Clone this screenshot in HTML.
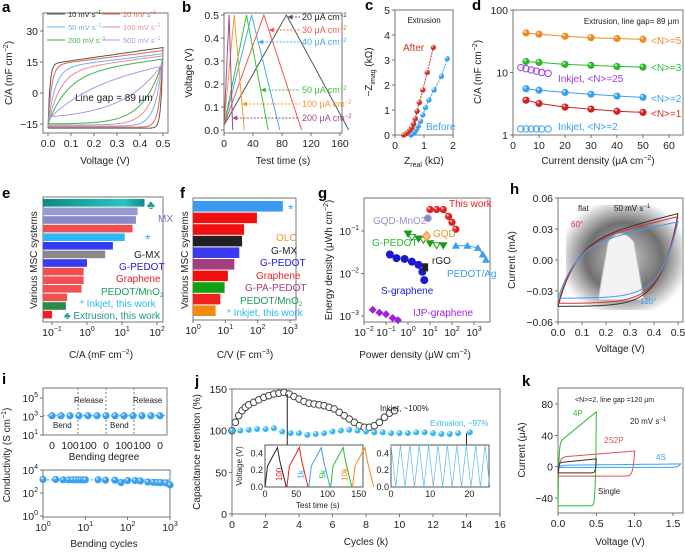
<!DOCTYPE html>
<html><head><meta charset="utf-8">
<style>
body{margin:0;background:#fff}
svg{font-family:"Liberation Sans",Arial,sans-serif;font-size:10px}
.t{font-size:10px;fill:#222}
.L{font-size:15px;font-weight:bold}
</style></head>
<body>
<svg id="fig" width="685" height="550" viewBox="0 0 685 550" xmlns="http://www.w3.org/2000/svg">
<defs>
<linearGradient id="tealg" x1="0" x2="1"><stop offset="0" stop-color="#0d8a83"/><stop offset="0.8" stop-color="#26c6c0"/><stop offset="1" stop-color="#0d8a83"/></linearGradient>
<radialGradient id="photo" cx="0.5" cy="0.5" r="0.6"><stop offset="0" stop-color="#d0d0d0"/><stop offset="0.55" stop-color="#707070"/><stop offset="0.95" stop-color="#fff"/></radialGradient>
</defs>
<g class="L">
<text x="2" y="12">a</text><text x="182" y="12">b</text><text x="365" y="10">c</text><text x="472" y="10">d</text>
<text x="2" y="198">e</text><text x="180" y="198">f</text><text x="318" y="198">g</text><text x="510" y="194">h</text>
<text x="2" y="384">i</text><text x="195" y="386">j</text><text x="522" y="386">k</text>
</g>
<g class="t" text-anchor="middle" font-size="11">
<text x="105" y="164">Voltage (V)</text>
<text transform="translate(12,73) rotate(-90)">C/A (mF cm<tspan dy="-4" font-size="7">−2</tspan><tspan dy="4">)</tspan></text>
<text x="283" y="164">Test time (s)</text>
<text transform="translate(192,73) rotate(-90)">Voltage (V)</text>
<text x="424" y="164">Z<tspan dy="3" font-size="7">real</tspan><tspan dy="-3"> (kΩ)</tspan></text>
<text transform="translate(372,72) rotate(-90)">−Z<tspan dy="3" font-size="7">imag</tspan><tspan dy="-3"> (kΩ)</tspan></text>
<text x="598" y="164">Current density (μA cm<tspan dy="-4" font-size="7">−2</tspan><tspan dy="4">)</tspan></text>
<text transform="translate(481,72) rotate(-90)">C/A (mF cm<tspan dy="-4" font-size="7">−2</tspan><tspan dy="4">)</tspan></text>
<text x="101" y="358">C/A (mF cm<tspan dy="-4" font-size="7">−2</tspan><tspan dy="4">)</tspan></text>
<text transform="translate(37,260) rotate(-90)">Various MSC systems</text>
<text x="245" y="358">C/V (F cm<tspan dy="-4" font-size="7">−3</tspan><tspan dy="4">)</tspan></text>
<text transform="translate(188,260) rotate(-90)">Various MSC systems</text>
<text x="415" y="358">Power density (μW cm<tspan dy="-4" font-size="7">−2</tspan><tspan dy="4">)</tspan></text>
<text transform="translate(332,260) rotate(-90)">Energy density (μWh cm<tspan dy="-4" font-size="7">−2</tspan><tspan dy="4">)</tspan></text>
<text x="620" y="352">Voltage (V)</text>
<text transform="translate(515,260) rotate(-90)">Current (mA)</text>
<text x="104" y="460">Bending degree</text>
<text x="104" y="547">Bending cycles</text>
<text transform="translate(10,455) rotate(-90)">Conductivity (S cm<tspan dy="-4" font-size="7">−1</tspan><tspan dy="4">)</tspan></text>
<text x="366" y="545">Cycles (k)</text>
<text transform="translate(200,452) rotate(-90)">Capacitance retention (%)</text>
<text x="620" y="545">Voltage (V)</text>
<text transform="translate(525,450) rotate(-90)">Current (μA)</text>
</g>
<g id="marks"></g>
<g class="t" font-size="9">
<text x="75" y="101" font-size="10">Line gap = 89 μm</text>
<text x="424" y="23" text-anchor="middle" font-size="8">Extrusion</text>
<text x="403" y="51" fill="#d03020">After</text>
<text x="426" y="130" fill="#3aa0f0">Before</text>
<text x="679" y="24" text-anchor="end" font-size="8">Extrusion, line gap= 89 μm</text>
<text x="651" y="44" fill="#f08a20">&lt;N&gt;=5</text>
<text x="651" y="71" fill="#2ab82a">&lt;N&gt;=3</text>
<text x="651" y="102" fill="#3aa0f0">&lt;N&gt;=2</text>
<text x="651" y="117" fill="#d03020">&lt;N&gt;=1</text>
<text x="558" y="82" fill="#a040e0">Inkjet, &lt;N&gt;=25</text>
<text x="558" y="130" fill="#3aa0f0">Inkjet, &lt;N&gt;=2</text>
<text x="158" y="222" fill="#7070c0">MX</text>
<text x="145" y="244" fill="#2ab8f0" font-size="14">*</text>
<text x="134" y="258">G-MX</text>
<text x="119" y="270" fill="#1a1ae0">G-PEDOT</text>
<text x="116" y="282" fill="#f02020">Graphene</text>
<text x="101" y="295" fill="#1a9a5a">PEDOT/MnO<tspan dy="2" font-size="6">2</tspan></text>
<text x="80" y="307" fill="#2ab8f0">* Inkjet, this work</text>
<text x="64" y="319" fill="#1a9a8a">♣ Extrusion, this work</text>
<text x="147" y="209" fill="#1a9a8a" font-size="12">♣</text>
<text x="288" y="214" fill="#2ab8f0" font-size="14">*</text>
<text x="276" y="241" fill="#f09030">OLC</text>
<text x="271" y="254">G-MX</text>
<text x="260" y="266" fill="#1a1ae0">G-PEDOT</text>
<text x="256" y="279" fill="#f02020">Graphene</text>
<text x="245" y="291" fill="#a04080">G-PA-PEDOT</text>
<text x="240" y="304" fill="#1a9a5a">PEDOT/MnO<tspan dy="2" font-size="6">2</tspan></text>
<text x="227" y="316" fill="#2ab8f0">* Inkjet, this work</text>
<text x="449" y="207" fill="#f02020">This work</text>
<text x="373" y="224" fill="#9a90d0">GQD-MnO2</text>
<text x="433" y="237" fill="#f09030">GQD</text>
<text x="372" y="246" fill="#2ab82a">G-PEDOT</text>
<text x="432" y="264">rGO</text>
<text x="447" y="277" fill="#3aa0f0">PEDOT/Ag</text>
<text x="381" y="294" fill="#1a1ae0">S-graphene</text>
<text x="413" y="316" fill="#a020e0">IJP-graphene</text>
<text x="578" y="211" font-size="8">flat</text>
<text x="614" y="211" font-size="8">50 mV s<tspan dy="-3" font-size="6">−1</tspan></text>
<text x="571" y="227" fill="#e03030" font-size="8">60°</text>
<text x="640" y="304" fill="#3aa0f0" font-size="8">120°</text>
<text x="74" y="403" font-size="8">Release</text><text x="133" y="403" font-size="8">Release</text>
<text x="53" y="428" font-size="8">Bend</text><text x="110" y="428" font-size="8">Bend</text>
<text x="380" y="411" font-size="8">Inkjet, ~100%</text>
<text x="430" y="426" fill="#3ab8f0" font-size="8">Extrusion, ~97%</text>
<text x="575" y="402" font-size="7">&lt;N&gt;=2, line gap =120 μm</text>
<text x="630" y="424" font-size="8">20 mV s<tspan dy="-3" font-size="6">−1</tspan></text>
<text x="573" y="416" fill="#2ab82a" font-size="8">4P</text>
<text x="604" y="443" fill="#e05050" font-size="8">2S2P</text>
<text x="656" y="460" fill="#3aa0f0" font-size="8">4S</text>
<text x="598" y="494" font-size="8">Single</text>
<text x="296" y="508" font-size="8">Test time (s)</text>
</g>
</svg>
<script>
// ---- data ----
const aRates=['10 mV s','20 mV s','50 mV s','100 mV s','200 mV s','500 mV s'];
const aUpper=[14,13.5,12,10.5,9,6];
const aUpperEnd=[22,20.5,19,18,16.5,14.5];
const aLower=[-17,-16.5,-16,-15.5,-15,-13];
const aTau=[0.008,0.015,0.03,0.05,0.08,0.17];
const bCurrents=['20','30','40','50','100','200'];
const bPeak=[86,55,38,31,14,7];
const bEnd=[172,107,77,61,28,12];
const cAfterX=[0.3,0.38,0.45,0.52,0.58,0.64,0.7,0.76,0.84,0.96,1.11,1.32];
const cAfterY=[0,0.05,0.12,0.2,0.3,0.45,0.65,0.95,1.3,1.8,2.5,3.5];
const cBeforeX=[0.55,0.62,0.68,0.74,0.8,0.88,0.96,1.05,1.17,1.35,1.6,1.8];
const cBeforeY=[0,0.05,0.12,0.22,0.35,0.55,0.8,1.1,1.4,1.8,2.35,3.05];
const dJ=[5,10,20,30,40,50];
const dN5=[43,41,38,36,35,34];
const dN3=[15,14.5,13.5,13,12.5,12.2];
const dN2=[5.5,5.2,4.8,4.5,4.2,4.0];
const dN1=[3.6,3.2,2.8,2.6,2.4,2.3];
const dInk25X=[3,5,7,9,11,13.5];
const dInk25=[12,11.5,11,10.5,10,9.7];
const dInk2X=[3,5,7,9,11,13.5];
const dInk2=[1.25,1.25,1.25,1.25,1.25,1.25];
const eVals=[44,28,25,20,12,5.5,3.3,1,0.8,0.8,0.7,0.27,0.25,0.1];
const eCols=['url(#tealg)','#9a9ad0','#8a8ac8','#f05050','#2ab8f8','#3a3af0','#888','#3a3af0','#f05050','#f05050','#f05050','#f05050','#2a8a4a','#f02020'];
const fVals=[600,95,38,33,27,19,12,9.5,7,5];
const fCols=['#3a9af0','#f01010','#f01010','#222','#3a3af0','#a04080','#f01010','#10a010','#f02020','#f08a10'];
const gThisP=[10,20,40,70,100,150], gThisE=[0.32,0.32,0.32,0.22,0.16,0.11];
const gGpedP=[1,1.5,3,5,10,20,40], gGpedE=[0.085,0.07,0.065,0.06,0.05,0.045,0.045];
const gSgrP=[0.15,0.3,0.7,1.5,3,4.5,5.5], gSgrE=[0.028,0.023,0.022,0.019,0.016,0.011,0.007];
const gAgP=[150,500,1500,2500,3500], gAgE=[0.045,0.045,0.04,0.028,0.021];
const gIjpP=[0.025,0.05,0.1,0.2,0.35], gIjpE=[0.0014,0.0012,0.0011,0.0009,0.0008];
const hNames=['flat','60','120'];
const hTop=[0.045,0.042,0.037];
const hLow=[-0.045,-0.042,-0.037];
const iTopVals=[1200,1200,1200,1200,1200,1200,1200,1200,1200,1200,1200,1200,1200];
const iCyc=[1,2,3,4,5,6,7,8,9,10,20,30,50,70,100,150,200,300,400,500,600,800,1000];
const iCond=[1500,1500,1400,1400,1400,1400,1400,1400,1400,1400,1400,1300,1300,800,1200,1200,1100,900,850,800,800,750,500];
const jInkK=[0,0.2,0.4,0.6,0.8,1,1.3,1.6,1.9,2.2,2.5,2.8,3.1,3.4,3.7,4,4.3,4.6,4.9,5.2,5.5,5.8,6.1,6.4,6.7,7,7.3,7.6,7.9,8.2,8.5,8.8,9.1,9.4,9.7];
const jInkR=[100,110,118,124,128,131,134,137,140,142,144,145,146,144,141,138,135,133,132,131,130,128,126,122,118,114,110,106,104,104,106,110,116,121,124];
const jExtK=[0,0.5,1,1.5,2,2.5,3,3.5,4,4.5,5,5.5,6,6.5,7,7.5,8,8.5,9,9.5,10,10.5,11,11.5,12,12.5,13,13.5,14.2];
const jExtR=[100,100,101,102,102,103,99,97,97,95,96,97,99,100,101,100,99,98,98,97,97,97,98,98,97,96,96,97,98];
const kNames=['4P','2S2P','4S','Single'];
const kVmax=[0.5,1.0,1.6,0.5];
const kTop=[70,20,3.5,10];
const kLow=[-50,-12,-1,-8];
const kUp0=[30,12,1.8,5];

// ---- helpers ----
const NS='http://www.w3.org/2000/svg';
const root=document.getElementById('marks');
function el(tag,attrs,name,parent){
  const e=document.createElementNS(NS,tag);
  for(const k in attrs)e.setAttribute(k,attrs[k]);
  
  
  (parent||root).appendChild(e);return e;
}
function txt(x,y,s,anchor,name,extra){
  const t=el('text',Object.assign({x:x,y:y,'text-anchor':anchor||'middle',fill:'#222','font-size':10},extra||{}),name);
  t.textContent=s;return t;
}
function lin(d0,d1,p0,p1){return v=>p0+(v-d0)*(p1-p0)/(d1-d0);}
function lg(d0,d1,p0,p1){const f=lin(Math.log10(d0),Math.log10(d1),p0,p1);return v=>f(Math.log10(v));}
function box(x0,y0,x1,y1,name){el('rect',{x:x0,y:y0,width:x1-x0,height:y1-y0,fill:'none',stroke:'#555','stroke-width':0.8},name);}
function xticks(vals,labels,X,y,name,sup){vals.forEach((v,i)=>{el('line',{x1:X(v),x2:X(v),y1:y,y2:y+3,stroke:'#555','stroke-width':0.8},name+'-tick');
  const t=txt(X(v),y+14,labels[i],'middle',name+'-label',{'font-size':10.5});
  if(sup){t.textContent='10';const s=document.createElementNS(NS,'tspan');s.setAttribute('dy','-5');s.setAttribute('font-size','7');s.textContent=sup[i];t.appendChild(s);}
});}
function yticks(vals,labels,Y,x,name,sup){vals.forEach((v,i)=>{el('line',{x1:x-3,x2:x,y1:Y(v),y2:Y(v),stroke:'#555','stroke-width':0.8},name+'-tick');
  const t=txt(x-5,Y(v)+4,labels[i],'end',name+'-label',{'font-size':10.5});
  if(sup){t.textContent='10';const s=document.createElementNS(NS,'tspan');s.setAttribute('dy','-5');s.setAttribute('font-size','7');s.textContent=sup[i];t.appendChild(s);}
});}
function poly(pts,stroke,name,extra){return el('path',Object.assign({d:'M'+pts.map(p=>p[0].toFixed(1)+','+p[1].toFixed(1)).join('L'),fill:'none',stroke:stroke,'stroke-width':1},extra||{}),name);}
function ball(x,y,c,name,r){el('circle',{cx:x,cy:y,r:r||3.6,fill:c,stroke:'none'},name);el('circle',{cx:x-1,cy:y-1.2,r:1.3,fill:'#fff',opacity:0.6},name+'-shine');}
function cv(vmax,top,low,up0,tau,X,Y){
  const pts=[];const N=80;
  for(let i=0;i<=N;i++){const v=vmax*i/N;const pu=up0+(top-up0)*v/vmax;pts.push([X(v),Y(low+(pu-low)*(1-Math.exp(-v/tau)))]);}
  for(let i=N;i>=0;i--){const v=vmax*i/N;pts.push([X(v),Y(top+(low-top)*(1-Math.exp(-(vmax-v)/tau)))]);}
  return pts;
}

// ---- panel a ----
{const X=lin(0,0.5,48,163),Y=lin(-15,30,124,31);box(43,13,168,133,'panel-a-frame');
xticks([0,0.1,0.2,0.3,0.4,0.5],['0.0','0.1','0.2','0.3','0.4','0.5'],X,133,'a-x');
yticks([-15,0,15,30],['−15','0','15','30'],Y,43,'a-y');
const cols=['#555','#e8604c','#6ab0f8','#e88a9a','#3cb44b','#a89ae0'];
aRates.forEach((r,i)=>{poly(cv(0.5,aUpperEnd[i],aLower[i],aUpper[i],aTau[i],X,Y),cols[i],'cv-'+r.split(' ')[0]+'mv');
  const lx=i%2?102:47,ly=17+Math.floor(i/2)*13;
  el('line',{x1:lx,x2:lx+18,y1:ly-3,y2:ly-3,stroke:cols[i]},'legend-line');
  const t=txt(lx+21,ly,r,'start','legend-entry',{'font-size':7.5,fill:cols[i]==='#555'?'#222':cols[i]});
  const s=document.createElementNS(NS,'tspan');s.setAttribute('dy','-3');s.setAttribute('font-size','5');s.textContent='−1';t.appendChild(s);});}
// ---- panel b ----
{const X=lin(0,160,224,340),Y=lin(0,0.5,130,15);box(224,13,342,133,'panel-b-frame');
xticks([0,40,80,120,160],['0','40','80','120','160'],X,133,'b-x');
yticks([0,0.1,0.2,0.3,0.4,0.5],['0.0','0.1','0.2','0.3','0.4','0.5'],Y,224,'b-y');
const cols=['#555','#f05a4a','#4aa8f8','#3cc03c','#f89a30','#a04a90'];const ly=[17,30,42,90,104,118];
bCurrents.forEach((c,i)=>{poly([[X(0),Y(0.02)],[X(bPeak[i]),Y(0.5)],[X(bEnd[i]),Y(0)]],cols[i],'gcd-'+c+'ua');
  const vy=0.5-(ly[i]-15)/230; const tx=bPeak[i]+(bEnd[i]-bPeak[i])*(0.5-Math.max(vy,0.02))/0.5;
  el('line',{x1:X(tx)+4,x2:300,y1:ly[i],y2:ly[i],stroke:cols[i],'stroke-dasharray':'2,1.5'},'arrow-'+c);
  el('path',{d:`M${X(tx)},${ly[i]}l5,-2.5v5z`,fill:cols[i]},'arrowhead-'+c);
  const t=txt(302,ly[i]+3,c+' μA cm','start','label-'+c+'ua',{'font-size':9,fill:cols[i]==='#555'?'#222':cols[i]});
  const s=document.createElementNS(NS,'tspan');s.setAttribute('dy','-3');s.setAttribute('font-size','6');s.textContent='−2';t.appendChild(s);});}
// ---- panel c ----
{const X=lin(0,2,395,453),Y=lin(0,5,135,10);box(395,10,453,135,'panel-c-frame');
xticks([0,1,2],['0','1','2'],X,135,'c-x');yticks([0,1,2,3,4,5],['0','1','2','3','4','5'],Y,395,'c-y');
poly(cBeforeX.map((x,i)=>[X(x),Y(cBeforeY[i])]),'#3aa0f0','before-line',{'stroke-dasharray':'2,1'});
cBeforeX.forEach((x,i)=>ball(X(x),Y(cBeforeY[i]),'#3aa0f0','before-point',2.7));
poly(cAfterX.map((x,i)=>[X(x),Y(cAfterY[i])]),'#d03020','after-line',{'stroke-dasharray':'2,1'});
cAfterX.forEach((x,i)=>ball(X(x),Y(cAfterY[i]),'#d03020','after-point',2.7));}
// ---- panel d ----
{const X=lin(0,60,513,669),Y=lg(1,100,135,10);box(513,10,683,135,'panel-d-frame');
xticks([0,10,20,30,40,50,60],['0','10','20','30','40','50','60'],X,135,'d-x');
yticks([1,10,100],['1','10','100'],Y,513,'d-y');
[[dN5,'#f08a20','n5'],[dN3,'#2ab82a','n3'],[dN2,'#3aa0f0','n2'],[dN1,'#d02020','n1']].forEach(([s,c,n])=>{
 poly(dJ.map((j,i)=>[X(j),Y(s[i])]),c,'series-'+n+'-line');dJ.forEach((j,i)=>ball(X(j),Y(s[i]),c,'series-'+n+'-point'));});
dInk25X.forEach((j,i)=>el('circle',{cx:X(j),cy:Y(dInk25[i]),r:3.2,fill:'none',stroke:'#a040e0'},'inkjet-25-point'));
dInk2X.forEach((j,i)=>el('circle',{cx:X(j),cy:Y(dInk2[i]),r:3.2,fill:'none',stroke:'#3aa0f0'},'inkjet-2-point'));}
// ---- panel e ----
{const X=lg(0.1,100,52,157);box(43,197,163,322,'panel-e-frame');
xticks([0.1,1,10,100],['','','',''],X,322,'e-x',['−1','0','1','2']);
eVals.forEach((v,i)=>el('rect',{x:43,y:199+i*8.6,width:Math.max(X(v)-43,1),height:7.6,fill:eCols[i]},'bar-e-'+i));}
// ---- panel f ----
{const X=lg(1,1000,193,290);box(193,198,296,320,'panel-f-frame');
xticks([1,10,100,1000],['','','',''],X,320,'f-x',['0','1','2','3']);
fVals.forEach((v,i)=>el('rect',{x:193,y:201+i*11.6,width:X(v)-193,height:10.6,fill:fCols[i]},'bar-f-'+i));}
// ---- panel g ----
{const X=lg(0.01,1000,364,474),Y=lg(0.001,0.1,316,231);box(364,198,490,322,'panel-g-frame');
xticks([0.01,0.1,1,10,100,1000],['','','','','',''],X,322,'g-x',['−2','−1','0','1','2','3']);
yticks([0.001,0.01,0.1],['','',''],Y,364,'g-y',['−3','−2','−1']);
poly(gThisP.map((p,i)=>[X(p),Y(gThisE[i])]),'#e02020','this-work-line');gThisP.forEach((p,i)=>ball(X(p),Y(gThisE[i]),'#e02020','this-work-point'));
gGpedP.forEach((p,i)=>el('path',{d:`M${X(p)-3.5},${Y(gGpedE[i])-3}h7l-3.5,6z`,fill:i%2?'#fff':'#1a9a1a',stroke:'#1a9a1a'},'g-pedot-point'));
gSgrP.forEach((p,i)=>el('circle',{cx:X(p),cy:Y(gSgrE[i]),r:4,fill:'#1a1ad0'},'s-graphene-point'));
poly(gAgP.map((p,i)=>[X(p),Y(gAgE[i])]),'#3aa0f0','pedot-ag-line');
gAgP.forEach((p,i)=>el('path',{d:`M${X(p)},${Y(gAgE[i])-4}l4,7h-8z`,fill:'#3aa0f0'},'pedot-ag-point'));
gIjpP.forEach((p,i)=>el('path',{d:`M${X(p)},${Y(gIjpE[i])-4}l4,4l-4,4l-4,-4z`,fill:'#a020e0'},'ijp-graphene-point'));
el('circle',{cx:X(8),cy:Y(0.2),r:3.5,fill:'#8a86c8',stroke:'#b0acd8'},'gqd-mno2-point');
el('path',{d:`M${X(7)},${Y(0.075)-5}l4,5l-4,5l-4,-5z`,fill:'#f9c080',stroke:'#f09030'},'gqd-point');
el('rect',{x:X(6)-3,y:Y(0.014)-4,width:6,height:8,fill:'#222'},'rgo-point');}
// ---- panel h ----
{const X=lin(0,0.5,558,678),Y=lin(-0.06,0.06,322,198);box(558,198,683,322,'panel-h-frame');
el('rect',{x:566,y:205,width:116,height:105,fill:'url(#photo)'},'device-photo');
el('path',{d:'M598,300 L608,242 Q620,225 634,242 L644,300 Z',fill:'#f2f2f2',stroke:'#bbb'},'bent-device');
xticks([0,0.1,0.2,0.3,0.4,0.5],['0.0','0.1','0.2','0.3','0.4','0.5'],X,322,'h-x');
yticks([-0.06,-0.03,0,0.03,0.06],['−0.06','−0.03','0.00','0.03','0.06'],Y,558,'h-y');
const cols=['#333','#e03030','#3aa0f0'];
hNames.forEach((n,i)=>poly(cv(0.5,hTop[i],hLow[i],hTop[i]*0.35,0.07,X,Y),cols[i],'cv-'+n));}
// ---- panel i ----
{const Yt=lg(10,100000,435,398);box(43,388,167,435,'panel-i-top-frame');
yticks([10,1000,100000],['','',''],Yt,43,'i-top-y',['1','3','5']);
el('line',{x1:43,x2:167,y1:Yt(1200),y2:Yt(1200),stroke:'#3aa0f0','stroke-dasharray':'2,2'},'i-top-ref');
[78,106,134].forEach(x=>el('line',{x1:x,x2:x,y1:388,y2:435,stroke:'#777','stroke-dasharray':'2,2'},'bend-divider'));
const degL=['0','100','100','0','100','100','0'];degL.forEach((d,i)=>txt(52+i*18,449,d,'middle','degree-label',{'font-size':10.5}));
iTopVals.forEach((v,i)=>ball(52+i*9,Yt(v),'#3aa0f0','i-top-point'));
const X=lg(1,1000,43,170),Y=lg(1,10000,516,470);box(43,470,170,517,'panel-i-bottom-frame');
xticks([1,10,100,1000],['','','',''],X,517,'i-x',['0','1','2','3']);
yticks([1,100,10000],['','',''],Y,43,'i-bottom-y',['0','2','4']);
el('line',{x1:43,x2:170,y1:Y(1400),y2:Y(1400),stroke:'#3aa0f0','stroke-dasharray':'2,2'},'i-bottom-ref');
iCyc.forEach((c,i)=>ball(X(c),Y(iCond[i]),'#3aa0f0','i-bottom-point'));}
// ---- panel j ----
{const X=lin(0,16,232,500),Y=lin(0,150,514,389);box(232,389,500,514,'panel-j-frame');
xticks([0,2,4,6,8,10,12,14,16],['0','2','4','6','8','10','12','14','16'],X,514,'j-x');
yticks([0,50,100,150],['0','50','100','150'],Y,232,'j-y');
jInkK.forEach((k,i)=>el('circle',{cx:X(k),cy:Y(jInkR[i]),r:3.3,fill:'#fff',stroke:'#444'},'inkjet-point'));
jExtK.forEach((k,i)=>ball(X(k),Y(jExtR[i]),'#3ab8f0','extrusion-point',3));
el('line',{x1:X(3.3),x2:X(3.3),y1:Y(144),y2:446,stroke:'#222'},'j-arrow1');
el('line',{x1:X(14),x2:X(14),y1:Y(97),y2:450,stroke:'#222'},'j-arrow2');
const ix=lin(0,160,265,365),iy=lin(0,0.5,487,445);
el('rect',{x:265,y:445,width:98,height:42,fill:'#fff',stroke:'#555'},'inset1-frame');
const inC=['#222','#e02020','#3aa0f0','#2ab82a','#f08a20'];const st=[0,35,70,105,140];
st.forEach((s,i)=>poly([[ix(s),iy(0)],[ix(s+4),iy(0.25)],[ix(s+20),iy(0.47)],[ix(s+24),iy(0.3)],[ix(s+34),iy(0)]],inC[i],'inset1-curve'));
['100','1k','5k','10k'].forEach((l,i)=>txt(ix(st[i+1]-8),iy(0.15),l,'middle','inset1-label',{transform:`rotate(-90 ${ix(st[i+1]-8)} ${iy(0.15)})`,fill:inC[i+1],'font-size':8}));
[0,50,100,150].forEach(v=>txt(ix(v),497,String(v),'middle','inset1-x',{'font-size':9}));
[0,0.2,0.4].forEach(v=>txt(263,iy(v)+3,v.toFixed(1),'end','inset1-y',{'font-size':9}));
txt(242,466,'Voltage (V)','middle','inset1-ytitle',{transform:'rotate(-90 242 466)','font-size':8});
const jx=lin(0,25,391,489);
el('rect',{x:391,y:445,width:98,height:42,fill:'#fff',stroke:'#555'},'inset2-frame');
const pts=[];for(let t=0;t<=24;t+=2.4){pts.push([jx(t),iy(0.5)]);pts.push([jx(t+1.2),iy(0)]);}poly(pts,'#5ab8f0','inset2-curve',{'stroke-width':0.7});
[0,10,20].forEach(v=>txt(jx(v),497,String(v),'middle','inset2-x',{'font-size':9}));
[0,0.2,0.4].forEach(v=>txt(389,iy(v)+3,v.toFixed(1),'end','inset2-y',{'font-size':9}));}
// ---- panel k ----
{const X=lin(0,1.5,558,673),Y=lin(-40,80,498,404);box(558,388,683,513,'panel-k-frame');
xticks([0,0.5,1,1.5],['0.0','0.5','1.0','1.5'],X,513,'k-x');
yticks([-40,0,40,80],['−40','0','40','80'],Y,558,'k-y');
const cols=['#2ab82a','#e05050','#3aa0f0','#333'];
kNames.forEach((n,i)=>poly(cv(kVmax[i],kTop[i],kLow[i],kUp0[i],0.02*kVmax[i],X,Y),cols[i],'cv-'+n.toLowerCase()));}
</script>
</body></html>
